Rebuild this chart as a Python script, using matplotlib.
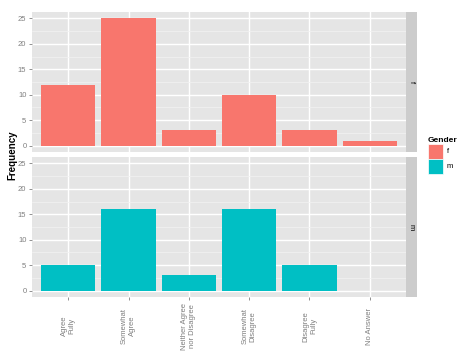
import numpy as np
import matplotlib.pyplot as plt
from matplotlib.patches import Rectangle

plt.rcParams['font.family'] = ['Liberation Sans', 'DejaVu Sans']

categories = ["Agree\nFully", "Somewhat\nAgree", "Neither Agree\nnor Disagree",
              "Somewhat\nDisagree", "Disagree\nFully", "No Answer"]
genders = ["f", "m"]
freq_f = [12, 25, 3, 10, 3, 1]
freq_m = [5, 16, 3, 16, 5, 0]
colors = {"f": "#F8766D", "m": "#00BFC4"}
yticks = [0, 5, 10, 15, 20, 25]

W, H = 474, 363
fig = plt.figure(figsize=(W / 100, H / 100), dpi=100)
fig.patch.set_facecolor("white")

def fx(px):
    return px / W

def fy(py):
    return 1 - py / H

panels = [(12, 152), (157, 297)]
x = np.arange(1, len(categories) + 1)
axes = []
for i, (g, vals) in enumerate(zip(genders, [freq_f, freq_m])):
    top, bot = panels[i]
    ax = fig.add_axes([fx(32), fy(bot), fx(406 - 32), (bot - top) / H])
    ax.set_facecolor("#E5E5E5")
    ax.bar(x, vals, width=0.9, color=colors[g], zorder=3)
    ax.set_xlim(0.4, 6.6)
    ax.set_ylim(-1.25, 26.25)
    ax.set_yticks(yticks)
    ax.set_yticks(np.arange(2.5, 26, 5), minor=True)
    ax.set_xticks(x)
    ax.grid(which="major", color="white", lw=1.0, zorder=1)
    ax.grid(which="minor", axis="y", color="#F2F2F2", lw=0.5, zorder=1)
    for s in ax.spines.values():
        s.set_visible(False)
    ax.tick_params(which="major", length=2, width=0.6, color="#7F7F7F",
                   labelsize=5.5, labelcolor="#7F7F7F", pad=2)
    ax.tick_params(which="minor", length=0)
    if i == 0:
        ax.tick_params(axis="x", length=0, labelbottom=False)
    else:
        ax.set_xticklabels(categories, rotation=90, va="center", ha="center",
                           multialignment="center")
        ax.tick_params(axis="x", pad=19)
    # facet strip
    sax = fig.add_axes([fx(406), fy(bot), fx(10.5), (bot - top) / H])
    sax.set_facecolor("#CCCCCC")
    sax.set_xticks([])
    sax.set_yticks([])
    for s in sax.spines.values():
        s.set_visible(False)
    sax.text(0.5, 0.5, g, rotation=-90, ha="center", va="center",
             fontsize=5.5, color="black", transform=sax.transAxes)
    axes.append(ax)

fig.text(fx(12), fy(155), "Frequency", rotation=90, ha="center", va="center",
         fontsize=7, fontweight="bold")

# legend
fig.text(fx(428), fy(140), "Gender", ha="left", va="center", fontsize=6,
         fontweight="bold")
for k, g in enumerate(genders):
    y0 = 144 + k * 15
    fig.patches.append(Rectangle((fx(428), fy(y0 + 15)), fx(15), 15 / H,
                                 transform=fig.transFigure, facecolor=colors[g],
                                 edgecolor="white", lw=0.5))
    fig.text(fx(447), fy(y0 + 7.5), g, ha="left", va="center", fontsize=5.5)

plt.savefig("out.png", dpi=100)
